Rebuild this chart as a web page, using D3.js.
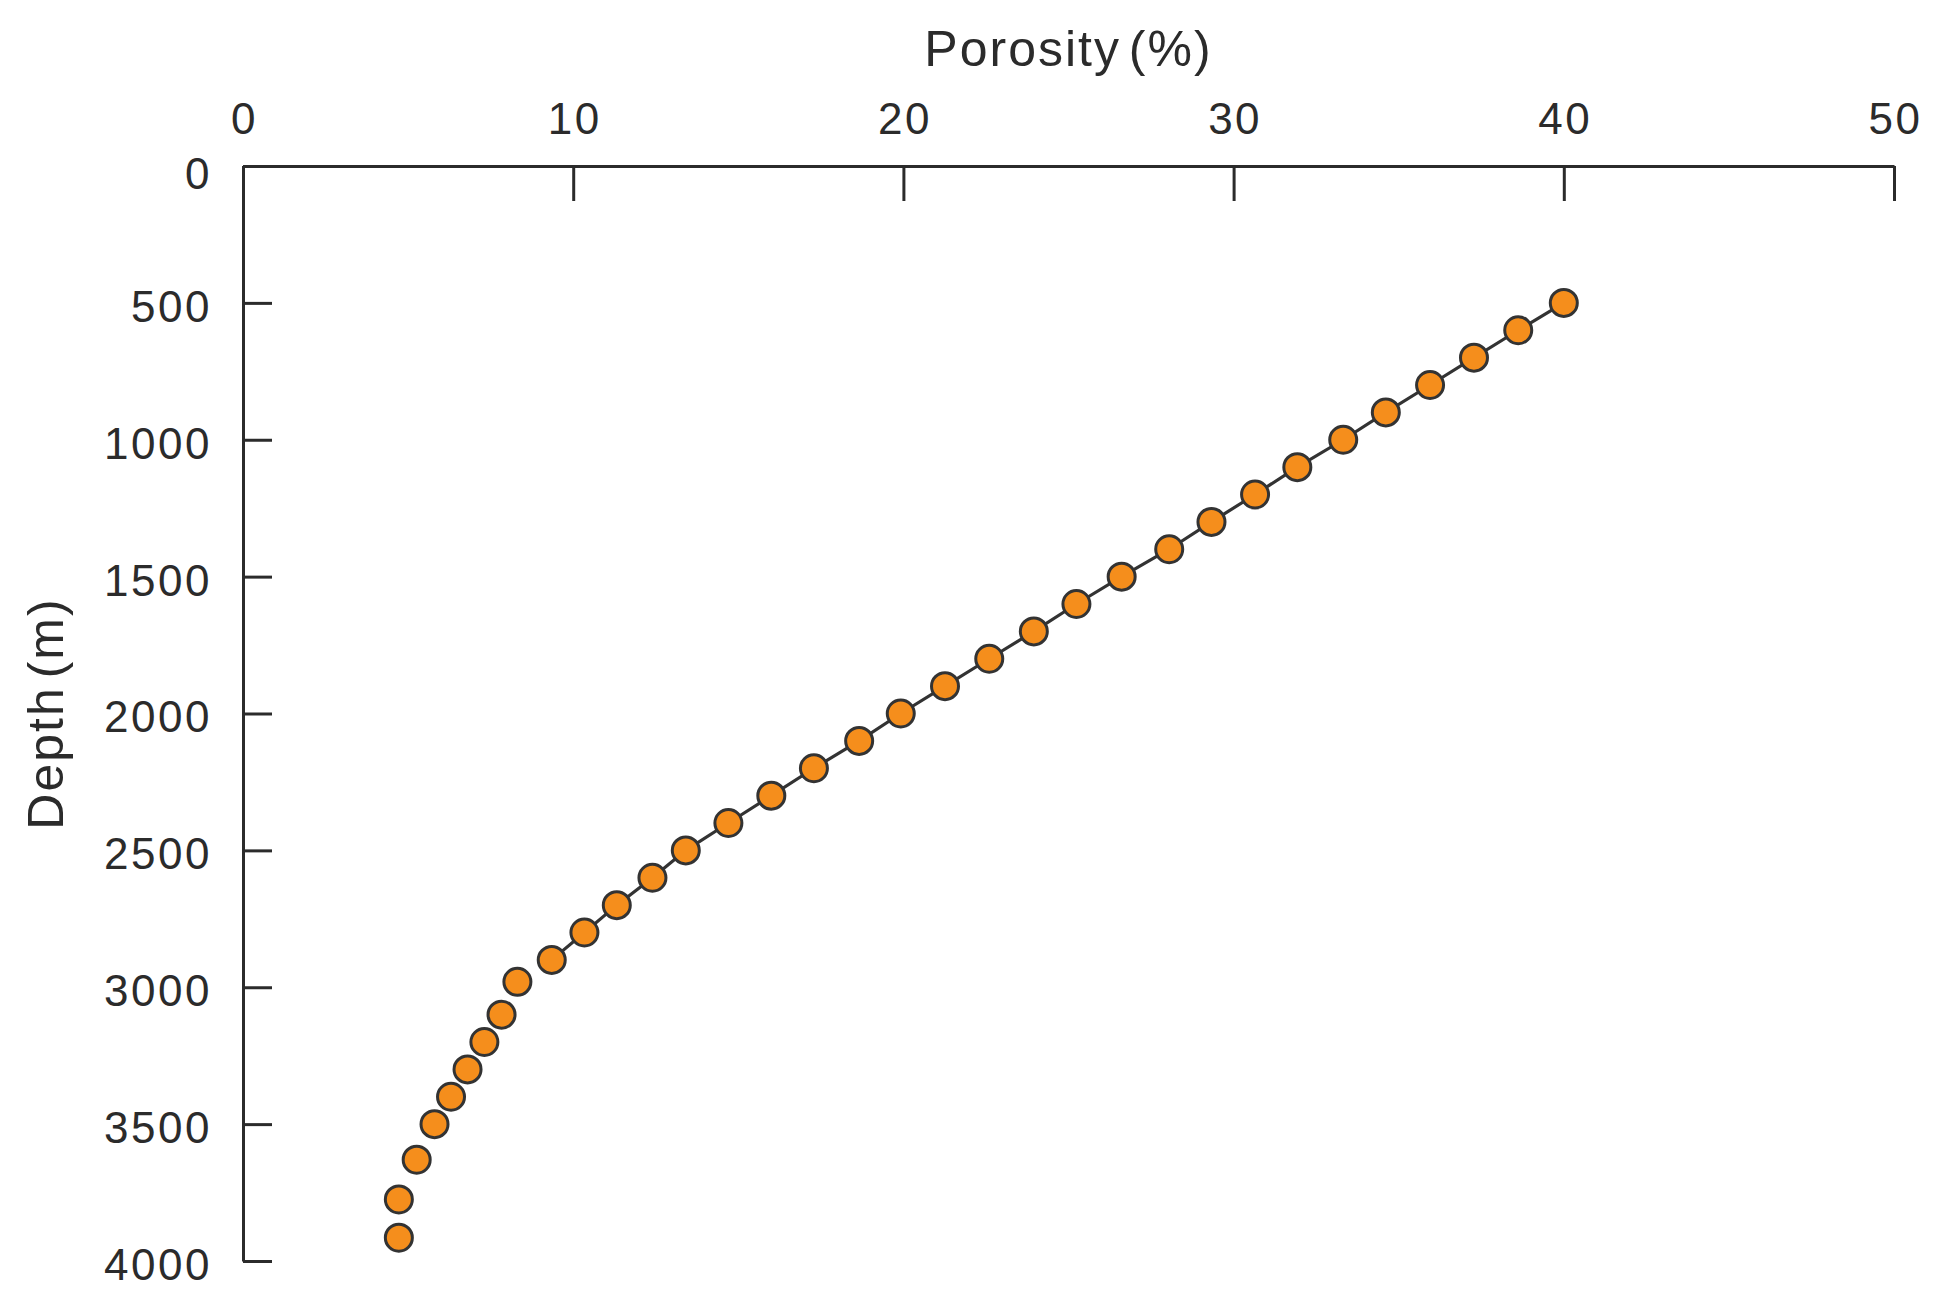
<!DOCTYPE html>
<html>
<head>
<meta charset="utf-8">
<script src="https://cdn.jsdelivr.net/npm/d3@7/dist/d3.min.js"></script>
<style>
  html, body { margin: 0; padding: 0; background: #fff; }
  svg { display: block; }
  .tick text { font-family: "Liberation Sans", Arial, Helvetica, sans-serif; }
</style>
</head>
<body>
<svg id="chart" width="1935" height="1301"></svg>
<script>
// ---- data ----
const depth = [500, 600, 700, 800, 900, 1000, 1100, 1200, 1300, 1400,
               1500, 1600, 1700, 1800, 1900, 2000, 2100, 2200, 2300, 2400,
               2500, 2600, 2700, 2800, 2900, 2980, 3100, 3200, 3300, 3400,
               3500, 3630, 3775, 3915];
const porosity = [40.0, 38.62, 37.28, 35.95, 34.61, 33.32, 31.93, 30.65, 29.33, 28.05,
                  26.61, 25.24, 23.95, 22.6, 21.26, 19.92, 18.66, 17.29, 16.0, 14.7,
                  13.41, 12.4, 11.32, 10.34, 9.35, 8.31, 7.83, 7.31, 6.8, 6.3,
                  5.8, 5.26, 4.72, 4.72];
const linePoints = 25;           // first points (500–2900 m) joined by the line
const xTicks = [0, 10, 20, 30, 40, 50];
const yTicks = [0, 500, 1000, 1500, 2000, 2500, 3000, 3500, 4000];
const xTitle = "Porosity (%)";
const yTitle = "Depth (m)";

// ---- chart ----
const svg = d3.select("#chart");
const FONT = '"Liberation Sans", Arial, Helvetica, sans-serif';
const INK = "#2b2b2b";

const x = d3.scaleLinear().domain([0, 50]).range([243, 1894]);
const y = d3.scaleLinear().domain([0, 4000]).range([166, 1261]);

const xAxis = d3.axisTop(x).tickValues(xTicks).tickSizeInner(-35).tickSizeOuter(0).tickPadding(32).tickFormat(d3.format("d"));
const yAxis = d3.axisLeft(y).tickValues(yTicks).tickSizeInner(-29).tickSizeOuter(0).tickPadding(31).tickFormat(d3.format("d"));

function styleAxis(g) {
  g.select(".domain").attr("stroke", INK).attr("stroke-width", 3);
  g.selectAll(".tick line").attr("stroke", INK).attr("stroke-width", 3);
  g.selectAll(".tick text")
    .attr("fill", INK)
    .style("font-family", FONT)
    .style("font-size", "44px")
    .style("letter-spacing", "2.5px");
}

const gx = svg.append("g").attr("transform", `translate(0,${y(0)})`).call(xAxis).call(styleAxis);
const gy = svg.append("g").attr("transform", `translate(${x(0)},0)`).call(yAxis).call(styleAxis);
gy.selectAll(".tick text").attr("dy", d => d === 0 ? "0.52em" : "0.42em");
gx.selectAll(".tick text").attr("dx", "1px");

// titles
svg.append("text")
  .attr("x", (x(0) + x(50)) / 2)
  .attr("y", 66)
  .attr("text-anchor", "middle")
  .attr("fill", INK)
  .style("font-family", FONT)
  .style("font-size", "50px")
  .style("letter-spacing", "2px")
  .style("word-spacing", "-8px")
  .text(xTitle);

svg.append("text")
  .attr("transform", `translate(63,${(y(0) + y(4000)) / 2}) rotate(-90)`)
  .attr("text-anchor", "middle")
  .attr("fill", INK)
  .style("font-family", FONT)
  .style("font-size", "50px")
  .style("letter-spacing", "2px")
  .style("word-spacing", "-8px")
  .text(yTitle);

// data
const pts = depth.map((d, i) => ({ d, p: porosity[i] }));

const line = d3.line().x(o => x(o.p)).y(o => y(o.d));
svg.append("path")
  .datum(pts.slice(0, linePoints))
  .attr("d", line)
  .attr("fill", "none")
  .attr("stroke", "#333")
  .attr("stroke-width", 3.2);

svg.append("g").selectAll("circle")
  .data(pts)
  .join("circle")
  .attr("cx", o => x(o.p))
  .attr("cy", o => y(o.d))
  .attr("r", 13.5)
  .attr("fill", "#F58E1C")
  .attr("stroke", "#333")
  .attr("stroke-width", 3);
</script>
</body>
</html>
